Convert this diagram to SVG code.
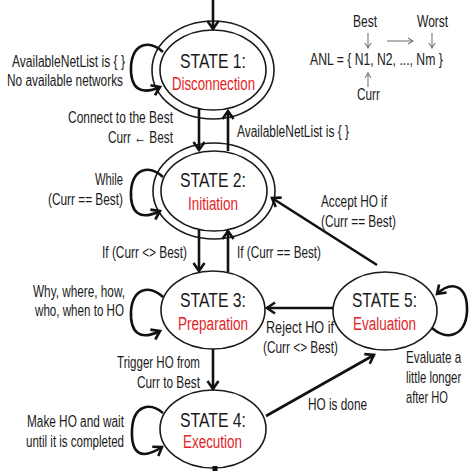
<svg xmlns="http://www.w3.org/2000/svg" width="474" height="471" viewBox="0 0 474 471">
<style>
text{font-family:"Liberation Sans",Arial,sans-serif;fill:#1a1a1a;}
.lb{font-size:16px;}
.st{font-size:21px;}
.rd{font-size:18px;fill:#e31e26;}
.el{fill:#fff;stroke:#1a1a1a;stroke-width:1.6;}
.ar{fill:none;stroke:#111;stroke-width:2.6;marker-end:url(#ah);}
.sm{fill:none;stroke:#777;stroke-width:1.1;marker-end:url(#sh);}
</style>
<defs>
<marker id="ah" viewBox="0 0 14 14" refX="11" refY="7" markerWidth="14" markerHeight="14" markerUnits="userSpaceOnUse" orient="auto">
<path d="M3,1.5 L11,7 L3,12.5" fill="none" stroke="#111" stroke-width="2.6"/>
</marker>
<marker id="sh" viewBox="0 0 8 8" refX="7" refY="4" markerWidth="8" markerHeight="8" markerUnits="userSpaceOnUse" orient="auto">
<path d="M2,1 L7,4 L2,7" fill="none" stroke="#777" stroke-width="1.1"/>
</marker>
</defs>
<rect width="474" height="471" fill="#fff"/>
<g id="state1">
<ellipse class="el" cx="213" cy="70" rx="61" ry="49"/>
<ellipse class="el" cx="213" cy="70" rx="53" ry="40"/>
<text class="st" x="180" y="68" textLength="66" lengthAdjust="spacingAndGlyphs">STATE 1:</text>
<text class="rd" x="172" y="90" textLength="83" lengthAdjust="spacingAndGlyphs">Disconnection</text>
</g>
<g id="state2">
<ellipse class="el" cx="214" cy="191" rx="61" ry="48"/>
<ellipse class="el" cx="214" cy="191" rx="53" ry="40"/>
<text class="st" x="180" y="187" textLength="66" lengthAdjust="spacingAndGlyphs">STATE 2:</text>
<text class="rd" x="188" y="210" textLength="50" lengthAdjust="spacingAndGlyphs">Initiation</text>
</g>
<g id="state3">
<ellipse class="el" cx="213" cy="310" rx="52" ry="39"/>
<text class="st" x="180" y="307" textLength="66" lengthAdjust="spacingAndGlyphs">STATE 3:</text>
<text class="rd" x="178" y="330" textLength="70" lengthAdjust="spacingAndGlyphs">Preparation</text>
</g>
<g id="state4">
<ellipse class="el" cx="213" cy="429" rx="53" ry="39"/>
<text class="st" x="180" y="427" textLength="66" lengthAdjust="spacingAndGlyphs">STATE 4:</text>
<text class="rd" x="183" y="448" textLength="59" lengthAdjust="spacingAndGlyphs">Execution</text>
</g>
<g id="state5">
<ellipse class="el" cx="385" cy="311" rx="52" ry="39"/>
<text class="st" x="352" y="307" textLength="65" lengthAdjust="spacingAndGlyphs">STATE 5:</text>
<text class="rd" x="353" y="330" textLength="63" lengthAdjust="spacingAndGlyphs">Evaluation</text>
</g>
<g id="connectors">
<path class="ar" d="M213,0 L213,29"/>
<path class="ar" d="M199,109 L199,150"/>
<path class="ar" d="M228,151 L228,111"/>
<path class="ar" d="M199,230 L199,271"/>
<path class="ar" d="M228,272 L228,231"/>
<path class="ar" d="M213,349 L213,389"/>
<path class="ar" d="M333,308 L267,308"/>
<path class="ar" d="M266,416 L374,355"/>
<path class="ar" d="M377,265 L272,198"/>
<path class="ar" d="M163,52 C150,40 133,42 131,66 C130,88 140,96 160,87"/>
<path class="ar" d="M163,177 C150,165 133,167 131,191 C130,213 140,221 160,211"/>
<path class="ar" d="M163,297 C150,285 133,287 131,311 C130,333 140,341 160,331"/>
<path class="ar" d="M163,413 C150,402 133,405 132,430 C131,455 142,460 162,447"/>
<path class="ar" d="M432,328 C445,340 465,338 467,312 C468,285 452,280 437,294"/>
<path d="M215,466 L215,471" stroke="#111" stroke-width="5"/>
</g>
<g id="anl">
<text class="lb" x="353" y="27" textLength="24" lengthAdjust="spacingAndGlyphs">Best</text>
<text class="lb" transform="translate(417,27) scale(0.8,1)" x="0" y="0" textLength="39" lengthAdjust="spacingAndGlyphs">Worst</text>
<text class="lb" transform="translate(310,65) scale(0.8,1)" x="0" y="0" textLength="166" lengthAdjust="spacingAndGlyphs">ANL = { N1, N2, ..., Nm }</text>
<text class="lb" x="357" y="100" textLength="23" lengthAdjust="spacingAndGlyphs">Curr</text>
<path class="sm" d="M368,33 L368,48"/>
<path class="sm" d="M387,41 L413,41"/>
<path class="sm" d="M432,33 L432,48"/>
<path class="sm" d="M368,87 L368,73"/>
</g>
<g id="labels">
<text class="lb" x="12" y="67" textLength="113" lengthAdjust="spacingAndGlyphs">AvailableNetList is { }</text>
<text class="lb" x="7" y="86" textLength="116" lengthAdjust="spacingAndGlyphs">No available  networks</text>
<text class="lb" x="68" y="123" textLength="105" lengthAdjust="spacingAndGlyphs">Connect to the Best</text>
<text class="lb" x="108" y="143" textLength="65" lengthAdjust="spacingAndGlyphs">Curr ← Best</text>
<text class="lb" x="237" y="137" textLength="112" lengthAdjust="spacingAndGlyphs">AvailableNetList is { }</text>
<text class="lb" x="95" y="185" textLength="28" lengthAdjust="spacingAndGlyphs">While</text>
<text class="lb" x="48" y="205" textLength="75" lengthAdjust="spacingAndGlyphs">(Curr == Best)</text>
<text class="lb" x="102" y="258" textLength="85" lengthAdjust="spacingAndGlyphs">If (Curr &lt;&gt; Best)</text>
<text class="lb" x="237" y="258" textLength="84" lengthAdjust="spacingAndGlyphs">If (Curr == Best)</text>
<text class="lb" x="321" y="207" textLength="66" lengthAdjust="spacingAndGlyphs">Accept HO if</text>
<text class="lb" x="321" y="227" textLength="75" lengthAdjust="spacingAndGlyphs">(Curr == Best)</text>
<text class="lb" x="33" y="297" textLength="92" lengthAdjust="spacingAndGlyphs">Why, where, how,</text>
<text class="lb" x="35" y="316" textLength="89" lengthAdjust="spacingAndGlyphs">who, when to HO</text>
<text class="lb" x="117" y="368" textLength="83" lengthAdjust="spacingAndGlyphs">Trigger HO from</text>
<text class="lb" x="137" y="388" textLength="63" lengthAdjust="spacingAndGlyphs">Curr to Best</text>
<text class="lb" x="27" y="427" textLength="97" lengthAdjust="spacingAndGlyphs">Make HO and wait</text>
<text class="lb" x="26" y="447" textLength="98" lengthAdjust="spacingAndGlyphs">until it is completed</text>
<text class="lb" x="266" y="333" textLength="68" lengthAdjust="spacingAndGlyphs">Reject HO if</text>
<text class="lb" x="263" y="353" textLength="75" lengthAdjust="spacingAndGlyphs">(Curr &lt;&gt; Best)</text>
<text class="lb" x="308" y="410" textLength="59" lengthAdjust="spacingAndGlyphs">HO is done</text>
<text class="lb" transform="translate(406,363) scale(0.8,1)" x="0" y="0" textLength="69" lengthAdjust="spacingAndGlyphs">Evaluate a</text>
<text class="lb" transform="translate(406,383) scale(0.8,1)" x="0" y="0" textLength="69" lengthAdjust="spacingAndGlyphs">little longer</text>
<text class="lb" transform="translate(406,403) scale(0.8,1)" x="0" y="0" textLength="52.5" lengthAdjust="spacingAndGlyphs">after HO</text>
</g>
</svg>
